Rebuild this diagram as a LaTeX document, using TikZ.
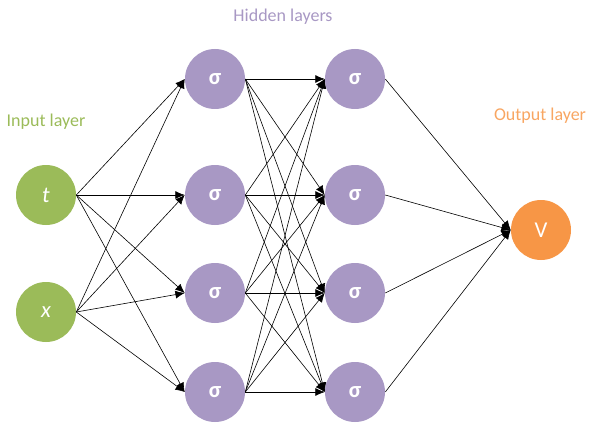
\documentclass[tikz,border=0pt]{standalone}
\usepackage{fontspec}
\setmainfont{Carlito}
\usetikzlibrary{positioning, arrows.meta}

\definecolor{inputgreen}{HTML}{9BBB59}
\definecolor{hiddenpurple}{HTML}{A898C4}
\definecolor{outputorange}{HTML}{F79646}

\begin{document}
\begin{tikzpicture}[x=0.75pt, y=-0.75pt, >={Latex[length=7pt,width=6pt]}, line width=0.45pt,
    neuron/.style={circle, minimum size=45pt, inner sep=0pt, text=white, font=\fontsize{17}{19}\selectfont},
    layerlabel/.style={font=\fontsize{13.5}{16}\selectfont}]

\useasboundingbox (0,0) rectangle (599,431);

% Vstupni vrstva
\node[neuron, fill=inputgreen] (in1) at (46,195) {\textit{t}};
\node[neuron, fill=inputgreen] (in2) at (46,312) {\textit{x}};
\node[layerlabel, text=inputgreen] (inlabel) at (46,122) {Input layer};

% Skryte vrstvy
\node[neuron, fill=hiddenpurple] (ha1) at (215,79) {\textbf{σ}};
\node[neuron, fill=hiddenpurple] (ha2) at (215,195) {\textbf{σ}};
\node[neuron, fill=hiddenpurple] (ha3) at (215,293) {\textbf{σ}};
\node[neuron, fill=hiddenpurple] (ha4) at (215,392) {\textbf{σ}};
\node[neuron, fill=hiddenpurple] (hb1) at (355,79) {\textbf{σ}};
\node[neuron, fill=hiddenpurple] (hb2) at (355,195) {\textbf{σ}};
\node[neuron, fill=hiddenpurple] (hb3) at (355,293) {\textbf{σ}};
\node[neuron, fill=hiddenpurple] (hb4) at (355,392) {\textbf{σ}};
\node[layerlabel, text=hiddenpurple] (hidlabel) at (283,17) {Hidden layers};

% Vystupni vrstva
\node[neuron, fill=outputorange] (out) at (541,230) {V};
\node[layerlabel, text=outputorange!85] (outlabel) at (540,116) {Output layer};

% Spoje
\foreach \i in {1,2}
    \foreach \j in {1,...,4}
        \draw[->] (in\i.east) -- (ha\j.west);
\foreach \i in {1,...,4}
    \foreach \j in {1,...,4}
        \draw[->] (ha\i.east) -- (hb\j.west);
\foreach \i in {1,...,4}
    \draw[->] (hb\i.east) -- (out.west);

\end{tikzpicture}
\end{document}
